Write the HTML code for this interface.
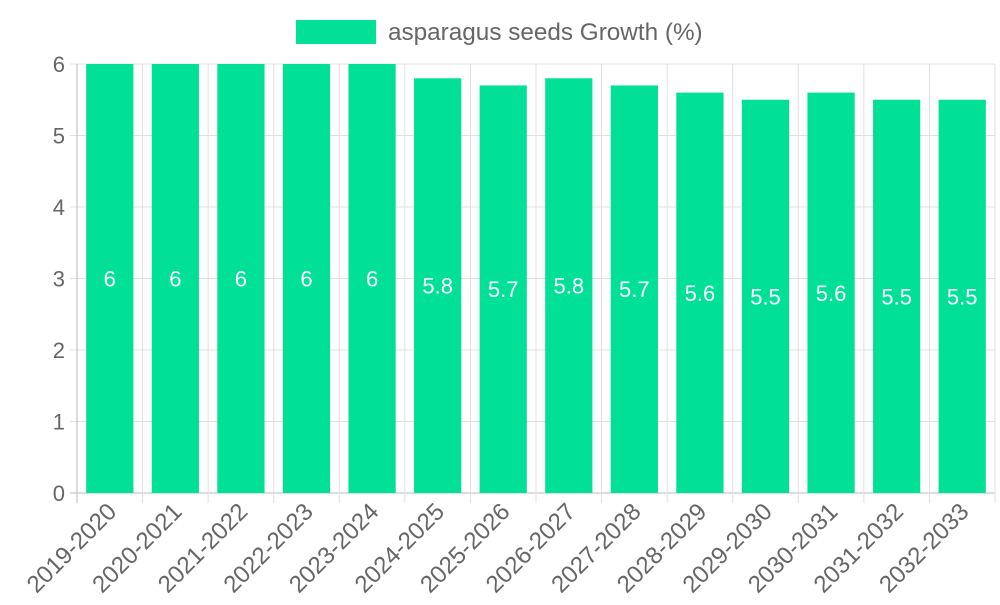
<!DOCTYPE html>
<html><head><meta charset="utf-8"><style>
body{margin:0;background:#fff;}
svg{font-family:"Liberation Sans",sans-serif;}
</style></head><body>
<svg id="chart" width="1000" height="600"></svg>
<script>
const categories=["2019-2020","2020-2021","2021-2022","2022-2023","2023-2024","2024-2025","2025-2026","2026-2027","2027-2028","2028-2029","2029-2030","2030-2031","2031-2032","2032-2033"];
const values=[6,6,6,6,6,5.8,5.7,5.8,5.7,5.6,5.5,5.6,5.5,5.5];
const yTicks=[0,1,2,3,4,5,6];
const seriesName="asparagus seeds Growth (%)";
const NS="http://www.w3.org/2000/svg";
const svg=document.getElementById('chart');
const L=77,R=995,T=64,B=493,yMax=6;
const bw=(R-L)/categories.length;
const x=i=>L+i*bw;
const y=v=>B-(v/yMax)*(B-T);
function el(t,a,p){const e=document.createElementNS(NS,t);for(const k in a)e.setAttribute(k,a[k]);(p||svg).appendChild(e);return e;}
const grid=el('g',{});


yTicks.forEach(v=>{
  el('line',{x1:L-7,x2:R,y1:y(v),y2:y(v),stroke:v===0?'#bbb':'#e0e0e0','stroke-width':1},grid);
  const t=el('text',{x:L-12,y:y(v)+8,'text-anchor':'end','font-size':22,fill:'#666'});
  t.textContent=v;
  
  
});
for(let i=0;i<=categories.length;i++){
  el('line',{x1:x(i),x2:x(i),y1:T,y2:B+10,stroke:i===0?'#bbb':'#e0e0e0','stroke-width':1},grid);
}
categories.forEach((c,i)=>{
  const cx=x(i)+bw/2, w=bw*0.72;
  const r=el('rect',{x:cx-w/2,y:y(values[i]),width:w,height:B-y(values[i]),fill:'#00e096'});
  
  
  const vl=el('text',{x:cx,y:(y(values[i])+B)/2+8,'text-anchor':'middle','font-size':22,fill:'#fff'});
  vl.textContent=values[i];
  
  
  const ax=cx+8, ay=B+20;
  const tl=el('text',{x:ax,y:ay,'text-anchor':'end','font-size':24,fill:'#666',transform:`rotate(-45 ${ax} ${ay})`});
  tl.textContent=c;
  
  
});
const lg=el('g',{});


el('rect',{x:296,y:20,width:80,height:24,fill:'#00e096'},lg);
const lt=el('text',{x:388,y:40,'font-size':24.3,fill:'#666'},lg);
lt.textContent=seriesName;
</script>
</body></html>
